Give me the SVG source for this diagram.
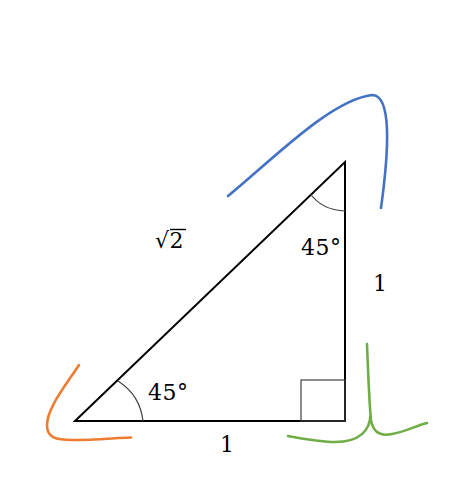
<svg xmlns="http://www.w3.org/2000/svg" width="474" height="501" viewBox="0 0 474 501">
<style>
.edge{fill:none;stroke:#000;stroke-width:2}
.thin{fill:none;stroke:#404040;stroke-width:1.2}
.lbl{font-family:"DejaVu Serif","Liberation Serif",serif;font-size:22px;fill:#000;letter-spacing:0.5px}
.sk{fill:none;stroke-width:2.6;stroke-linecap:round;stroke-linejoin:round}
</style>
<rect width="474" height="501" fill="#fff"/>
<g id="triangle">
<polygon class="edge" points="75,421 345,421 345,162"/>
<path class="thin" d="M118,381 Q140,395 143,421"/>
<path class="thin" d="M310.5,194 Q322,210 345,211"/>
<rect class="thin" x="301" y="380" width="44" height="41"/>
</g>
<g id="labels">
<text class="lbl" x="155" y="248">√2</text>
<line x1="170" y1="229.5" x2="186" y2="229.5" stroke="#000" stroke-width="1.4"/>
<text class="lbl" x="301" y="255">45°</text>
<text class="lbl" x="148" y="400">45°</text>
<text class="lbl" x="373" y="291">1</text>
<text class="lbl" x="220" y="452">1</text>
</g>
<g id="sketches">
<path class="sk" stroke="#4472c4" d="M228,196 C270,162 330,100 372,95 C392,95 389,150 381,208"/>
<path class="sk" stroke="#ed7d31" d="M79,365 C66,385 47,408 47,425 C47,438 56,440 72,440 C95,440 115,438 131,437.5"/>
<path class="sk" stroke="#70ad47" d="M367,344 C368,370 369,395 370.5,415 M288,436 C305,439 320,442 335,442 C360,442 370,430 370.5,415 C371,430 378,437 392,434 C405,432 415,426 427,423"/>
</g>
</svg>
